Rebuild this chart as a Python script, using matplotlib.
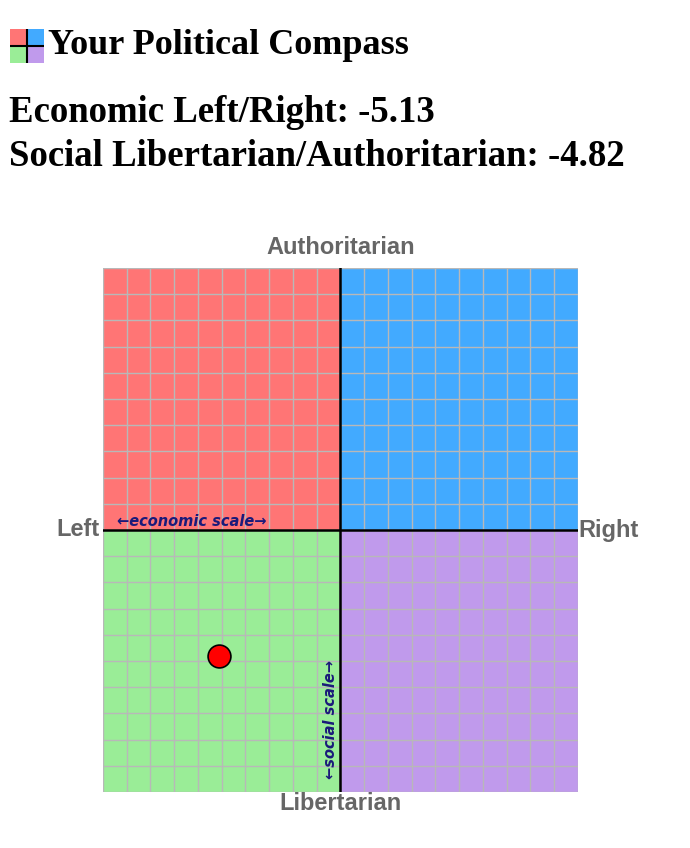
import matplotlib
matplotlib.use("Agg")
import matplotlib.pyplot as plt
from matplotlib.patches import Rectangle

econ = [-5.13]
social = [-4.82]
quad_colors = {"auth_left": "#ff7575", "auth_right": "#42aaff", "lib_left": "#9aed97", "lib_right": "#c09aec"}

W, H = 690, 848
fig = plt.figure(figsize=(W/100, H/100), dpi=100)

icon = fig.add_axes([10/W, 1-63/H, 34/W, 34/H])
icon.set_xlim(0, 2); icon.set_ylim(0, 2); icon.axis("off")
icon.add_patch(Rectangle((0, 1), 1, 1, color=quad_colors["auth_left"]))
icon.add_patch(Rectangle((1, 1), 1, 1, color=quad_colors["auth_right"]))
icon.add_patch(Rectangle((0, 0), 1, 1, color=quad_colors["lib_left"]))
icon.add_patch(Rectangle((1, 0), 1, 1, color=quad_colors["lib_right"]))
icon.plot([1, 1], [0, 2], color="black", lw=1.5)
icon.plot([0, 2], [1, 1], color="black", lw=1.5)

serif = "Liberation Serif"
fig.text(48/W, 1-46/H, "Your Political Compass", fontsize=26, fontweight="bold", family=serif, va="center")
fig.text(9/W, 1-112/H, f"Economic Left/Right: {econ[0]:.2f}", fontsize=26.5, fontweight="bold", family=serif, va="center")
fig.text(9/W, 1-156/H, f"Social Libertarian/Authoritarian: {social[0]:.2f}", fontsize=26.5, fontweight="bold", family=serif, va="center")

ax = fig.add_axes([103/W, (H-792)/H, 475/W, 524/H])
ax.set_xlim(-10, 10); ax.set_ylim(-10, 10)
ax.axis("off")
ax.add_patch(Rectangle((-10, 0), 10, 10, color=quad_colors["auth_left"], zorder=0))
ax.add_patch(Rectangle((0, 0), 10, 10, color=quad_colors["auth_right"], zorder=0))
ax.add_patch(Rectangle((-10, -10), 10, 10, color=quad_colors["lib_left"], zorder=0))
ax.add_patch(Rectangle((0, -10), 10, 10, color=quad_colors["lib_right"], zorder=0))
for v in range(-10, 11):
    ax.axvline(v, color="#b8b8b8", lw=1, zorder=1)
    ax.axhline(v, color="#b8b8b8", lw=1, zorder=1)
ax.axvline(0, color="black", lw=1.8, zorder=2)
ax.axhline(0, color="black", lw=1.8, zorder=2)

ax.scatter(econ, social, s=270, color="red", edgecolors="black", linewidths=1.2, zorder=5)

sans = "Liberation Sans"
grey = "#666666"
ax.text(0, 10.35, "Authoritarian", ha="center", va="bottom", fontsize=17, fontweight="bold", color=grey, family=sans)
ax.text(0, -10.0, "Libertarian", ha="center", va="top", fontsize=17, fontweight="bold", color=grey, family=sans)
ax.text(-10.15, 0, "Left", ha="right", va="center", fontsize=17, fontweight="bold", color=grey, family=sans)
ax.text(10.0, 0, "Right", ha="left", va="center", fontsize=17, fontweight="bold", color=grey, family=sans)
ax.text(-9.4, 0.05, "←economic scale→", ha="left", va="bottom", fontsize=10.5, fontstyle="italic", fontweight="bold", color="#1a1a7a", family=["DejaVu Sans"])
ax.text(-0.1, -9.5, "←social scale→", ha="right", va="bottom", rotation=90, fontsize=10.5, fontstyle="italic", fontweight="bold", color="#1a1a7a", family=["DejaVu Sans"])

fig.savefig("out.png", dpi=100)
